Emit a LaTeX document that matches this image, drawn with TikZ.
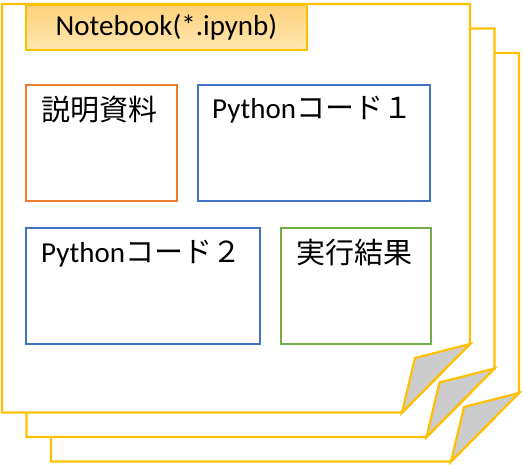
\documentclass[tikz,border=0pt]{standalone}
\usepackage{fontspec}
\setmainfont{Carlito}
\newfontfamily\jp{Noto Sans CJK JP}
\definecolor{gold}{HTML}{FFC000}
\definecolor{accentorange}{HTML}{ED7D31}
\definecolor{accentblue}{HTML}{4472C4}
\definecolor{accentgreen}{HTML}{70AD47}
\definecolor{foldgray}{HTML}{CCCCCC}
\definecolor{titletop}{HTML}{FFD27C}
\definecolor{titlebottom}{HTML}{FFE6B0}

\begin{document}
\begin{tikzpicture}[
        x=1pt, y=-1pt,
        sheet/.style={draw=gold, line width=2.2pt, fill=white, line join=miter},
        fold/.style={draw=gold, line width=2.2pt, fill=foldgray, line join=miter},
        title/.style={rectangle, draw=gold, line width=1.2pt, top color=titletop, bottom color=titlebottom, minimum width=281pt, minimum height=45pt, inner sep=0pt, font={\fontsize{29}{35}\selectfont}},
        part/.style={rectangle, line width=2.2pt, fill=white, anchor=north west, inner sep=0pt, outer sep=0pt},
        cell/.style={anchor=base west, inner sep=0pt, font={\fontsize{29}{35}\selectfont}}
    ]
        \useasboundingbox (0,0) rectangle (524,464);

        % Page 3 (back)
        \begin{scope}[shift={(49,49)}]
        \draw[sheet] (2,4) -- (470,4) -- (470,344) -- (402,412.5) -- (2,412.5) -- cycle;
        \draw[fold] (470,344) -- (415,358) -- (402,412.5) -- cycle;
        \end{scope}

        % Page 2
        \begin{scope}[shift={(24.5,24.5)}]
        \draw[sheet] (2,4) -- (470,4) -- (470,344) -- (402,412.5) -- (2,412.5) -- cycle;
        \draw[fold] (470,344) -- (415,358) -- (402,412.5) -- cycle;
        \end{scope}

        % Page 1 (front)
        \draw[sheet] (2,4) -- (470,4) -- (470,344) -- (402,412.5) -- (2,412.5) -- cycle;
        \draw[fold] (470,344) -- (415,358) -- (402,412.5) -- cycle;

        % Title
        \node[title] (nb_title) at (166.5,27.5) {Notebook(*.ipynb)};

        % Cells of the notebook
        \node[part, draw=accentorange, minimum width=151pt, minimum height=116pt] (setsumei) at (26,85) {};
        \node[part, draw=accentblue, minimum width=232pt, minimum height=116pt] (code1) at (198,85) {};
        \node[part, draw=accentblue, minimum width=234pt, minimum height=116pt] (code2) at (26,228) {};
        \node[part, draw=accentgreen, minimum width=150pt, minimum height=116pt] (kekka) at (281,228) {};

        % Labels
        \node[cell] (setsumei_text) at (41.5,120) {\jp 説明資料};
        \node[cell] (code1_text) at (212,118) {Python{\jp コード１}};
        \node[cell] (code2_text) at (41,262) {Python{\jp コード２}};
        \node[cell] (kekka_text) at (296.5,263) {\jp 実行結果};

    \end{tikzpicture}
\end{document}
